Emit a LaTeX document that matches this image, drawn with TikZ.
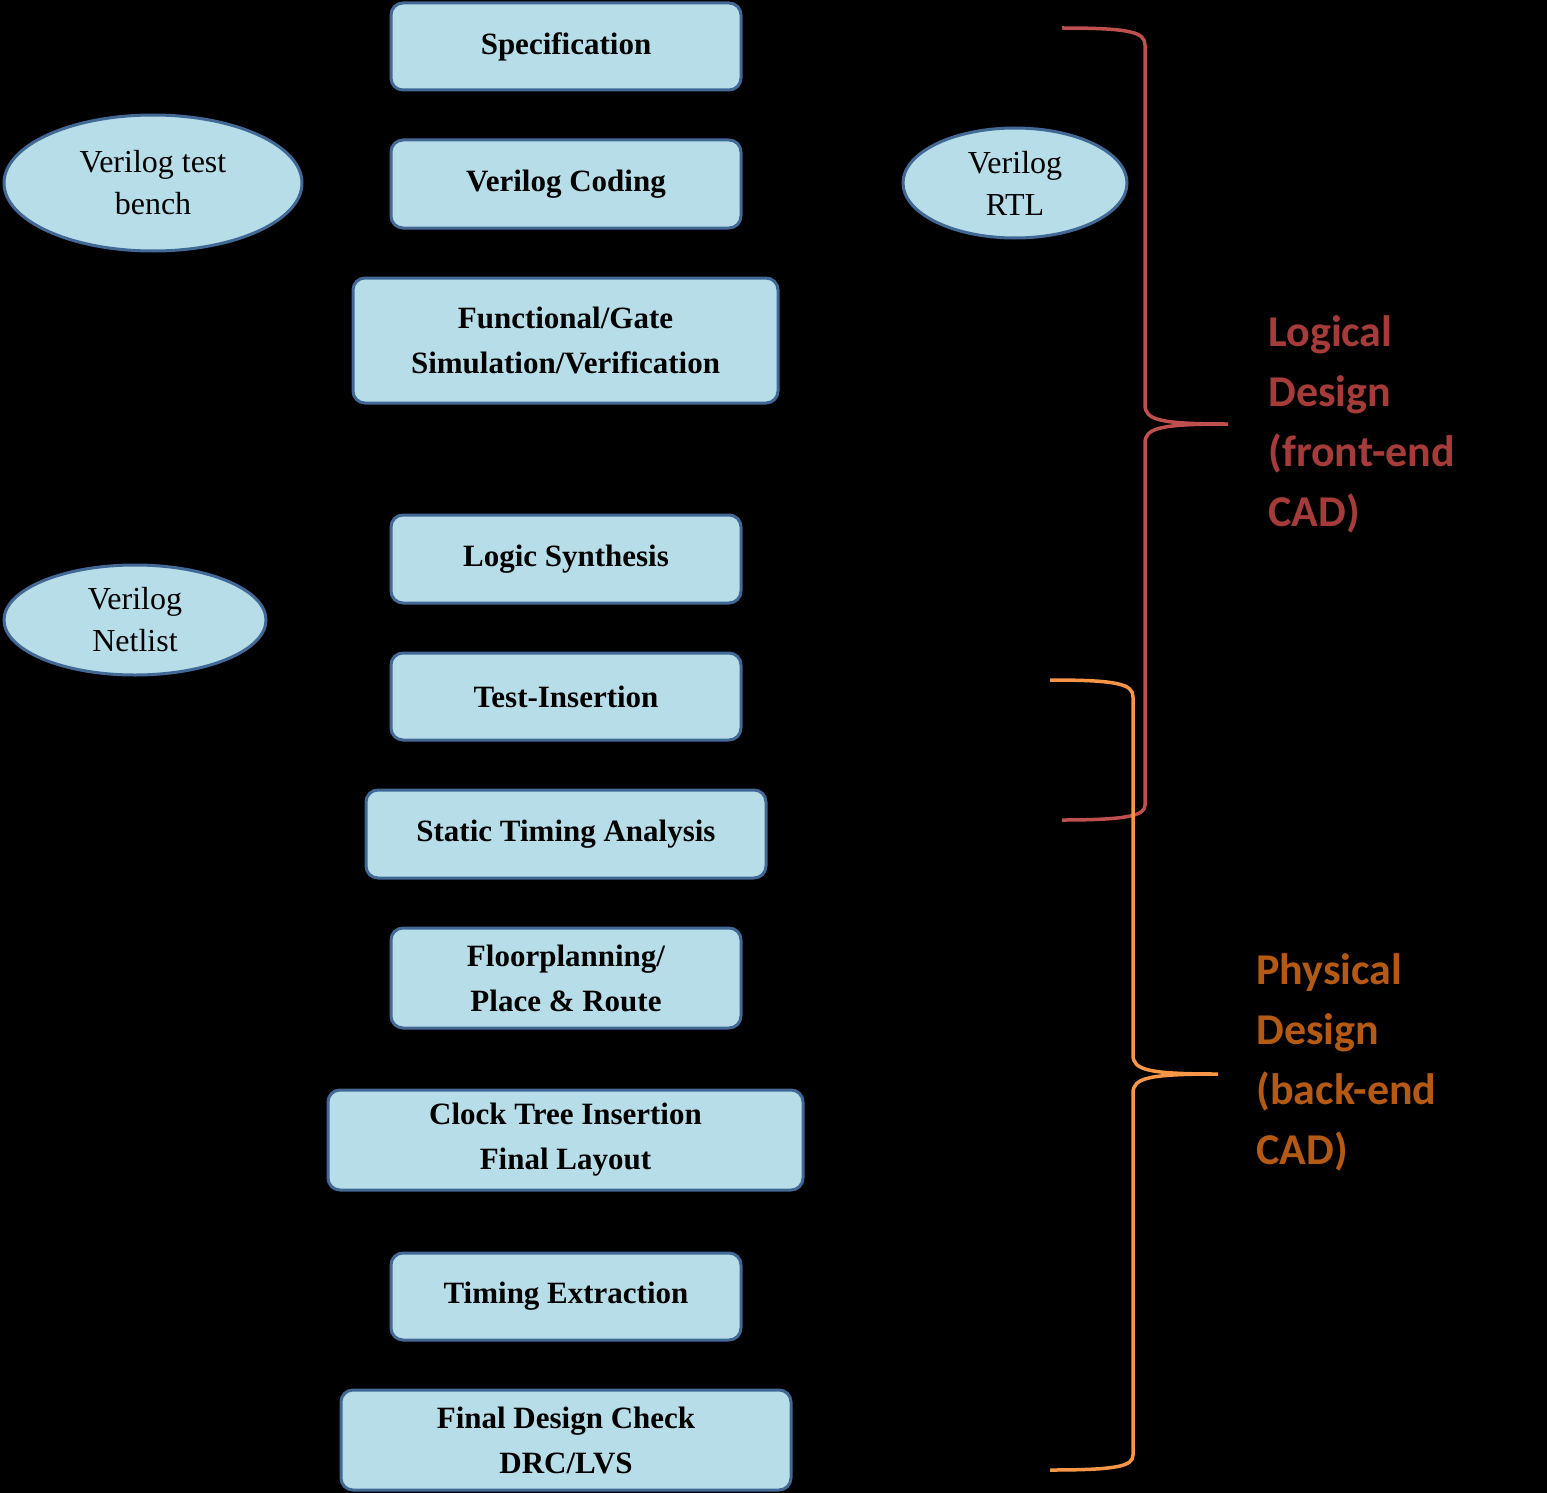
\documentclass[tikz,border=0pt]{standalone}
\usepackage{fontspec}
\setmainfont{Liberation Serif}
\newfontfamily\calfam{Carlito}
\usetikzlibrary{shapes.geometric}
\definecolor{bfill}{RGB}{183,221,232}
\definecolor{bdraw}{RGB}{66,104,150}
\definecolor{redb}{RGB}{192,80,77}
\definecolor{redt}{RGB}{165,60,58}
\definecolor{orb}{RGB}{247,150,70}
\definecolor{ort}{RGB}{180,90,20}
\begin{document}
\begin{tikzpicture}[x=1pt,y=-1pt,
 box/.style={draw=bdraw,fill=bfill,line width=3pt,rounded corners=12pt,align=center,font=\fontsize{31}{45}\selectfont\bfseries,inner sep=0pt},
 ell/.style={ellipse,draw=bdraw,fill=bfill,line width=3pt,align=center,font=\fontsize{32}{42}\selectfont,inner sep=0pt},
 lab/.style={anchor=north west,align=left,font=\calfam\fontsize{44}{60}\selectfont\bfseries}]
\fill[black] (0,0) rectangle (1547,1493);
\useasboundingbox (0,0) rectangle (1547,1493);
\newcommand\bx[6]{\node[box,minimum width=#4-#2,minimum height=#5-#3] (#1) at ({(#2+#4)/2},{(#3+#5)/2}) {#6};}
\bx{spec}{391}{3}{741}{90}{Specification}
\bx{vc}{391}{140}{741}{228}{Verilog Coding}
\bx{fg}{353}{278}{778}{403}{Functional/Gate\\Simulation/Verification}
\bx{ls}{391}{515}{741}{603}{Logic Synthesis}
\bx{ti}{391}{653}{741}{740}{Test-Insertion}
\bx{sta}{366}{790}{766}{878}{Static Timing Analysis}
\bx{fp}{391}{928}{741}{1028}{Floorplanning/\\Place \& Route}
\bx{ct}{328}{1090}{803}{1190}{Clock Tree Insertion\\Final Layout}
\bx{te}{391}{1253}{741}{1340}{Timing Extraction}
\bx{fd}{341}{1390}{791}{1490}{Final Design Check\\DRC/LVS}
\node[ell,minimum width=298,minimum height=136] (tb) at (153,183) {Verilog test\\bench};
\node[ell,minimum width=224,minimum height=110] (rtl) at (1015,183) {Verilog\\RTL};
\node[ell,minimum width=262,minimum height=110] (nl) at (135,620) {Verilog\\Netlist};
\draw[redb,line width=3.5pt] (1062,28) .. controls (1130,28) and (1145,32) .. (1145,45) -- (1145,405) .. controls (1145,420) and (1160,424) .. (1228,424) .. controls (1160,424) and (1145,428) .. (1145,443) -- (1145,805) .. controls (1145,815) and (1130,820) .. (1062,820);
\draw[orb,line width=3.5pt] (1050,680) .. controls (1118,680) and (1133,684) .. (1133,697) -- (1133,1055) .. controls (1133,1070) and (1148,1074) .. (1218,1074) .. controls (1148,1074) and (1133,1078) .. (1133,1093) -- (1133,1455) .. controls (1133,1466) and (1118,1470) .. (1050,1470);
\node[lab,text=redt] (lg) at (1265,312) {Logical\\Design\\(front-end\\CAD)};
\node[lab,text=ort] (pd) at (1253,950) {Physical\\Design\\(back-end\\CAD)};
\end{tikzpicture}
\end{document}
